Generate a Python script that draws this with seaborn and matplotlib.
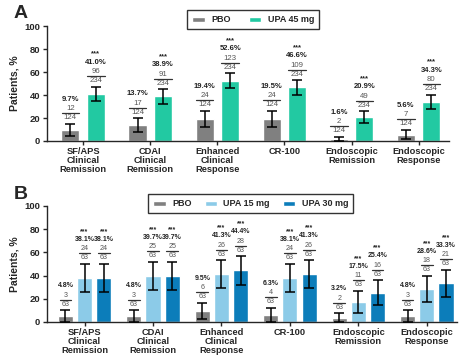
import matplotlib
matplotlib.use('Agg')
import matplotlib.pyplot as plt
import matplotlib.transforms as mtrans
import pandas as pd
import seaborn as sns

categories = ['SF/APS\nClinical\nRemission', 'CDAI\nClinical\nRemission',
              'Enhanced\nClinical\nResponse', 'CR-100',
              'Endoscopic\nRemission', 'Endoscopic\nResponse']

# Panel A: PBO vs UPA 45 mg
a_groups = ['PBO', 'UPA 45 mg']
a_pbo_pct = [9.7, 13.7, 19.4, 19.5, 1.6, 5.6]
a_pbo_num = [12, 17, 24, 24, 2, 7]
a_pbo_den = [124, 124, 124, 124, 124, 124]
a_pbo_lo = [4.5, 7.6, 12.5, 12.5, 0.0, 1.5]
a_pbo_hi = [14.9, 19.8, 26.3, 26.4, 3.8, 9.8]
a_pbo_sig = ['', '', '', '', '', '']
a_upa_pct = [41.0, 38.9, 52.6, 46.6, 20.9, 34.3]
a_upa_num = [96, 91, 123, 109, 49, 80]
a_upa_den = [234, 234, 234, 234, 234, 234]
a_upa_lo = [34.7, 32.6, 46.2, 40.2, 15.7, 28.2]
a_upa_hi = [47.3, 45.2, 59.0, 53.0, 26.1, 40.4]
a_upa_sig = ['***', '***', '***', '***', '***', '***']

# Panel B: PBO vs UPA 15 mg vs UPA 30 mg
b_groups = ['PBO', 'UPA 15 mg', 'UPA 30 mg']
b_pbo_pct = [4.8, 4.8, 9.5, 6.3, 3.2, 4.8]
b_pbo_num = [3, 3, 6, 4, 2, 3]
b_pbo_den = [63, 63, 63, 63, 63, 63]
b_pbo_lo = [0.0, 0.0, 2.3, 0.3, 0.0, 0.0]
b_pbo_hi = [10.1, 10.1, 16.8, 12.3, 7.5, 10.1]
b_pbo_sig = ['', '', '', '', '', '']
b_u15_pct = [38.1, 39.7, 41.3, 38.1, 17.5, 28.6]
b_u15_num = [24, 25, 26, 24, 11, 18]
b_u15_den = [63, 63, 63, 63, 63, 63]
b_u15_lo = [26.1, 27.6, 29.2, 26.1, 8.1, 17.4]
b_u15_hi = [50.1, 51.8, 53.4, 50.1, 26.9, 39.8]
b_u15_sig = ['***', '***', '***', '***', '***', '***']
b_u30_pct = [38.1, 39.7, 44.4, 41.3, 25.4, 33.3]
b_u30_num = [24, 25, 28, 26, 16, 21]
b_u30_den = [63, 63, 63, 63, 63, 63]
b_u30_lo = [26.1, 27.6, 32.1, 29.2, 14.6, 21.7]
b_u30_hi = [50.1, 51.8, 56.7, 53.4, 36.1, 45.0]
b_u30_sig = ['***', '***', '***', '***', '***', '***']

a_colors = ['#808080', '#22c9a2']
b_colors = ['#808080', '#8ccbe8', '#0c7dba']

sns.set_style('ticks')
plt.rcParams['font.family'] = ['Liberation Sans', 'DejaVu Sans']
plt.rcParams['axes.linewidth'] = 1.0

fig = plt.figure(figsize=(4.74, 3.62), dpi=100)
ax_a = fig.add_axes([0.099, 0.6105, 0.848, 0.3175])
ax_b = fig.add_axes([0.099, 0.1105, 0.865, 0.3205])


def draw_panel(ax, groups, colors, series, width, gap, line_hw, legend_xy,
               colspace, fsize):
    rows = []
    for g, s in zip(groups, series):
        for c, p in zip(categories, s['pct']):
            rows.append({'cat': c, 'group': g, 'pct': p})
    df = pd.DataFrame(rows)
    sns.barplot(data=df, x='cat', y='pct', hue='group', order=categories,
                hue_order=groups, palette=colors, width=width, gap=gap,
                errorbar=None, saturation=1, legend=False, ax=ax)
    for cont, s in zip(ax.containers, series):
        for i, bar in enumerate(cont):
            x = bar.get_x() + bar.get_width() / 2
            p = s['pct'][i]
            lo, hi = s['lo'][i], s['hi'][i]
            ax.errorbar(x, p, yerr=[[p - lo], [hi - p]], fmt='none',
                        ecolor='black', elinewidth=1.1, capsize=3.5,
                        capthick=1.1, zorder=4)
            kw = dict(xy=(x, hi), textcoords='offset pixels', ha='center',
                      va='center', annotation_clip=False)
            ax.annotate(str(s['den'][i]), xytext=(0, 6), fontsize=fsize,
                        color='#555555', **kw)
            ax.annotate(str(s['num'][i]), xytext=(0, 15), fontsize=fsize,
                        color='#555555', **kw)
            ax.annotate(f"{p:.1f}%", xytext=(0, 24.5), fontsize=fsize - 0.1,
                        fontweight='bold', color='#222222', **kw)
            if s['sig'][i]:
                ax.annotate(s['sig'][i], xytext=(0, 32.5),
                            fontsize=fsize - 0.1, fontweight='bold',
                            color='#222222', **kw)
            tr = mtrans.offset_copy(ax.transData, fig=fig, x=0, y=10.5,
                                    units='dots')
            ax.plot([x - line_hw, x + line_hw], [hi, hi], color='#333333',
                    lw=0.9, transform=tr, clip_on=False)
    ax.set_ylim(0, 100)
    ax.set_yticks([0, 20, 40, 60, 80, 100])
    ax.set_xlabel('')
    ax.set_ylabel('Patients, %', fontsize=7.5, fontweight='bold')
    ax.yaxis.set_label_coords(-0.068, 0.5)
    ax.tick_params(axis='both', labelsize=6.8, width=1.0, length=3, pad=2)
    ax.tick_params(axis='x', pad=1.5)
    for lab in ax.get_xticklabels() + ax.get_yticklabels():
        lab.set_fontweight('bold')
    ax.set_xticks(range(len(categories)))
    ax.set_xticklabels(categories, fontsize=6.7, fontweight='bold',
                       linespacing=1.0)
    sns.despine(ax=ax)
    leg = ax.legend(handles=list(ax.containers), labels=groups,
                    loc='center', bbox_to_anchor=legend_xy,
                    bbox_transform=fig.transFigure, ncol=len(groups),
                    frameon=True, fancybox=False, edgecolor='black',
                    fontsize=6.5, handlelength=1.4, handleheight=0.45,
                    columnspacing=colspace, handletextpad=0.7,
                    borderpad=0.55)
    leg.get_frame().set_linewidth(1.0)
    for t in leg.get_texts():
        t.set_fontweight('bold')


a_series = [
    dict(pct=a_pbo_pct, num=a_pbo_num, den=a_pbo_den, lo=a_pbo_lo,
         hi=a_pbo_hi, sig=a_pbo_sig),
    dict(pct=a_upa_pct, num=a_upa_num, den=a_upa_den, lo=a_upa_lo,
         hi=a_upa_hi, sig=a_upa_sig),
]
b_series = [
    dict(pct=b_pbo_pct, num=b_pbo_num, den=b_pbo_den, lo=b_pbo_lo,
         hi=b_pbo_hi, sig=b_pbo_sig),
    dict(pct=b_u15_pct, num=b_u15_num, den=b_u15_den, lo=b_u15_lo,
         hi=b_u15_hi, sig=b_u15_sig),
    dict(pct=b_u30_pct, num=b_u30_num, den=b_u30_den, lo=b_u30_lo,
         hi=b_u30_hi, sig=b_u30_sig),
]

draw_panel(ax_a, a_groups, a_colors, a_series, 0.76, 0.29, 0.13,
           (0.534, 0.945), 2.0, 5.6)
draw_panel(ax_b, b_groups, b_colors, b_series, 0.84, 0.21, 0.085,
           (0.529, 0.437), 1.4, 5.1)
ax_a.set_xlim(-0.54, 5.45)
ax_b.set_xlim(-0.55, 5.44)

fig.text(0.044, 0.962, 'A', fontsize=14, fontweight='bold', ha='center',
         va='center')
fig.text(0.044, 0.462, 'B', fontsize=14, fontweight='bold', ha='center',
         va='center')

fig.savefig('out.png', dpi=100)
